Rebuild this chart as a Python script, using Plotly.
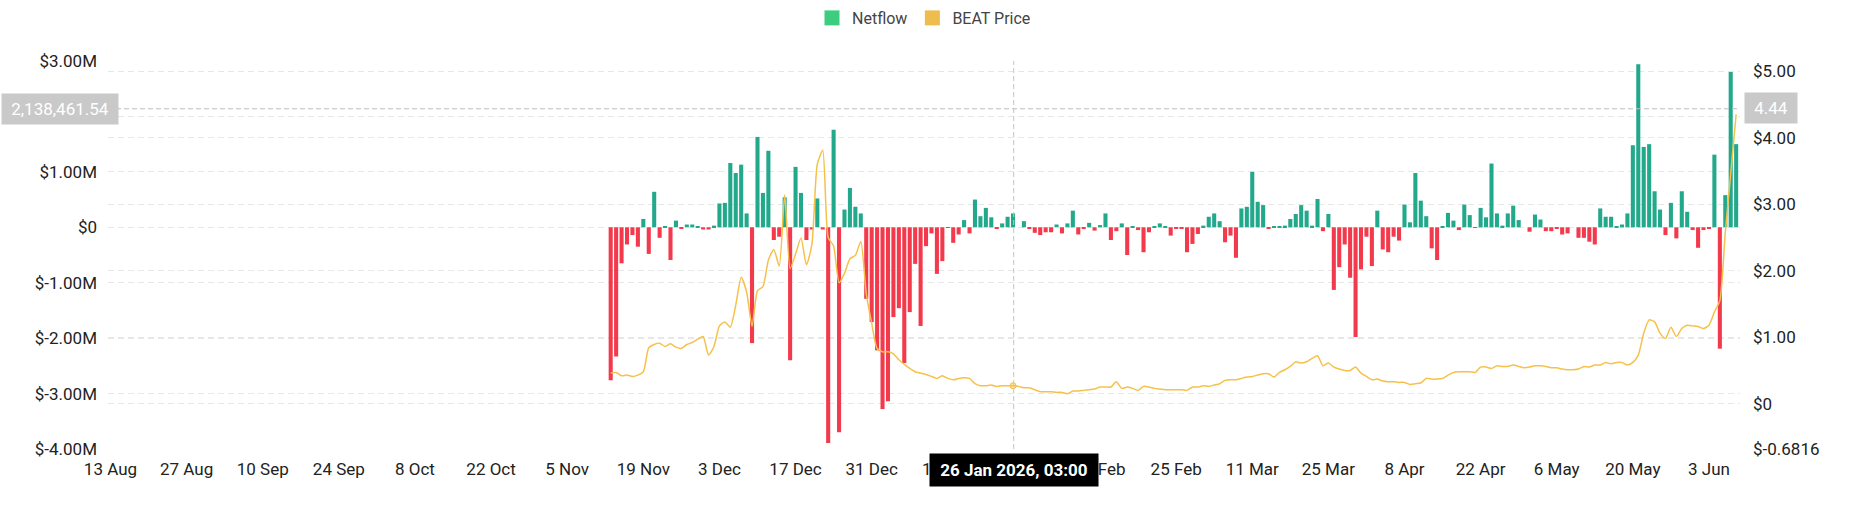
import pandas as pd
import plotly.graph_objects as go

# ---------------- data ----------------
start_date = "2025-11-13"
end_date = "2026-06-08"
dates = pd.date_range(start_date, end_date, freq="D")

# daily netflow (USD millions)
netflow_m = [
    -2.76, -2.33, -0.65, -0.31, -0.14, -0.35, 0.15, -0.48, 0.64, -0.19,
    0.01, -0.59, 0.12, -0.03, 0.05, 0.05, 0.01, -0.04, -0.04, 0.03,
    0.43, 0.44, 1.16, 0.98, 1.13, 0.25, -2.09, 1.63, 0.62, 1.38,
    -0.23, -0.17, 0.54, -2.40, 1.09, 0.62, -0.23, -0.04, 0.52, -0.04,
    -3.89, 1.76, -3.70, 0.32, 0.71, 0.37, 0.25, -1.29, -1.71, -2.22,
    -3.28, -3.14, -1.62, -1.46, -2.45, -1.53, -0.66, -1.78, -0.34, -0.11,
    -0.84, -0.61, -0.01, -0.28, -0.13, 0.13, -0.11, 0.50, 0.20, 0.35,
    0.18, -0.02, 0.07, 0.19, 0.25, 0.00, 0.11, -0.03, -0.10, -0.14,
    -0.09, -0.09, 0.05, -0.11, 0.07, 0.30, -0.13, -0.02, 0.08, -0.06,
    0.04, 0.25, -0.23, -0.07, 0.07, -0.50, 0.01, -0.05, -0.45, -0.09,
    0.02, 0.07, 0.02, -0.15, -0.02, -0.02, -0.45, -0.30, -0.12, 0.03,
    0.19, 0.25, 0.11, -0.27, -0.15, -0.55, 0.34, 0.37, 1.00, 0.46,
    0.40, -0.03, 0.01, 0.01, 0.03, 0.15, 0.24, 0.40, 0.30, 0.03,
    0.51, -0.07, 0.24, -1.13, -0.72, -0.31, -0.91, -1.98, -0.76, -0.17,
    -0.70, 0.30, -0.40, -0.45, -0.17, -0.24, 0.41, 0.09, 0.98, 0.48,
    0.20, -0.38, -0.59, 0.01, 0.26, 0.12, -0.05, 0.41, 0.22, -0.01,
    0.35, 0.18, 1.15, 0.25, 0.03, 0.25, 0.39, 0.13, 0.00, -0.08,
    0.23, 0.14, -0.07, -0.07, -0.02, -0.13, -0.11, 0.00, -0.19, -0.19,
    -0.26, -0.31, 0.34, 0.19, 0.19, 0.02, 0.05, 0.25, 1.48, 2.94,
    1.45, 1.50, 0.65, 0.32, -0.14, 0.44, -0.20, 0.65, 0.28, -0.05,
    -0.37, -0.05, -0.03, 1.31, -2.19, 0.58, 2.80, 1.50,
]

# daily BEAT price (USD)
beat_price = [
    0.46, 0.47, 0.42, 0.43, 0.41, 0.43, 0.48, 0.84, 0.89, 0.91,
    0.86, 0.90, 0.85, 0.83, 0.89, 0.92, 0.97, 1.01, 0.73, 0.86,
    1.17, 1.23, 1.15, 1.48, 1.90, 1.68, 1.16, 1.70, 1.76, 2.16,
    2.32, 2.07, 3.14, 2.03, 2.25, 2.49, 2.09, 2.39, 3.60, 3.81,
    2.50, 2.37, 1.82, 1.96, 2.18, 2.23, 2.44, 1.66, 1.21, 0.83,
    0.78, 0.78, 0.75, 0.66, 0.59, 0.53, 0.48, 0.46, 0.44, 0.41,
    0.38, 0.42, 0.38, 0.36, 0.38, 0.39, 0.38, 0.30, 0.27, 0.27,
    0.28, 0.26, 0.27, 0.27, 0.27, 0.26, 0.24, 0.24, 0.21, 0.18,
    0.18, 0.18, 0.17, 0.17, 0.15, 0.19, 0.19, 0.20, 0.21, 0.22,
    0.25, 0.25, 0.25, 0.33, 0.23, 0.25, 0.23, 0.20, 0.26, 0.25,
    0.23, 0.22, 0.21, 0.21, 0.21, 0.21, 0.20, 0.25, 0.25, 0.27,
    0.26, 0.28, 0.30, 0.35, 0.36, 0.36, 0.38, 0.40, 0.41, 0.43,
    0.45, 0.45, 0.40, 0.47, 0.51, 0.56, 0.63, 0.61, 0.63, 0.68,
    0.72, 0.57, 0.61, 0.55, 0.52, 0.50, 0.50, 0.55, 0.46, 0.41,
    0.36, 0.37, 0.34, 0.33, 0.33, 0.32, 0.32, 0.29, 0.30, 0.31,
    0.38, 0.37, 0.37, 0.38, 0.43, 0.47, 0.48, 0.48, 0.48, 0.47,
    0.55, 0.55, 0.53, 0.57, 0.56, 0.56, 0.58, 0.56, 0.54, 0.55,
    0.57, 0.57, 0.56, 0.54, 0.54, 0.52, 0.51, 0.51, 0.52, 0.56,
    0.55, 0.58, 0.58, 0.62, 0.60, 0.62, 0.62, 0.58, 0.62, 0.73,
    1.06, 1.26, 1.23, 1.06, 0.98, 1.15, 1.01, 1.13, 1.18, 1.17,
    1.16, 1.13, 1.18, 1.38, 1.55, 2.57, 3.46, 4.35,
]

# x-axis ticks (every 14 days); 28 Jan is fully hidden under the cursor label
x_tick_vals = [
    "2025-08-13", "2025-08-27", "2025-09-10", "2025-09-24", "2025-10-08",
    "2025-10-22", "2025-11-05", "2025-11-19", "2025-12-03", "2025-12-17",
    "2025-12-31", "2026-01-14", "2026-02-11", "2026-02-25",
    "2026-03-11", "2026-03-25", "2026-04-08", "2026-04-22", "2026-05-06",
    "2026-05-20", "2026-06-03",
]
x_tick_text = [
    "13 Aug", "27 Aug", "10 Sep", "24 Sep", "8 Oct",
    "22 Oct", "5 Nov", "19 Nov", "3 Dec", "17 Dec",
    "31 Dec", "14 Jan", "11 Feb", "25 Feb",
    "11 Mar", "25 Mar", "8 Apr", "22 Apr", "6 May",
    "20 May", "3 Jun",
]
left_tick_vals = [3e6, 2e6, 1e6, 0, -1e6, -2e6, -3e6, -4e6]
left_tick_text = ["$3.00M", "", "$1.00M", "$0", "$-1.00M", "$-2.00M", "$-3.00M", "$-4.00M"]
right_tick_vals = [5, 4, 3, 2, 1, 0, -0.6816]
right_tick_text = ["$5.00", "$4.00", "$3.00", "$2.00", "$1.00", "$0", "$-0.6816"]

cursor_time = "2026-01-26 03:00"
cursor_label = "26 Jan 2026, 03:00"
cursor_netflow = 2138461.54
cursor_netflow_label = "2,138,461.54"
cursor_price = 4.44
cursor_index = 74

# ---------------- style ----------------
GREEN = "#22a88b"
RED = "#f23a4c"
GOLD = "#f6c14a"
GRID = "#e7e7e7"
FONT = "Roboto"
TXT = "#222222"
NB = "&nbsp;"

netflow = [v * 1e6 for v in netflow_m]
bar_colors = [GREEN if v >= 0 else RED for v in netflow]

fig = go.Figure()

fig.add_trace(go.Bar(
    x=dates, y=netflow, marker=dict(color=bar_colors, line=dict(width=0)),
    name="Netflow", showlegend=False, yaxis="y",
))
fig.add_trace(go.Scatter(
    x=dates, y=beat_price, mode="lines", name="BEAT Price", showlegend=False,
    line=dict(color=GOLD, width=1.5, shape="spline", smoothing=0.6), yaxis="y2",
))
# hover dot on price line at the cursor
fig.add_trace(go.Scatter(
    x=[dates[cursor_index]], y=[beat_price[cursor_index]], mode="markers",
    marker=dict(size=6, color="rgba(247,195,77,0.5)", line=dict(color=GOLD, width=1)),
    showlegend=False, yaxis="y2", hoverinfo="skip",
))
# legend entries
fig.add_trace(go.Scatter(x=[None], y=[None], mode="markers", name="Netflow",
                         marker=dict(symbol="square", size=15, color="#3ccd7e")))
fig.add_trace(go.Scatter(x=[None], y=[None], mode="markers", name="BEAT Price",
                         marker=dict(symbol="square", size=15, color="#edbd4d")))

PLOT_H = 525 - 61 - 76

fig.update_layout(
    width=1852, height=525,
    margin=dict(l=108, r=112, t=61, b=76, autoexpand=False),
    paper_bgcolor="white", plot_bgcolor="white",
    bargap=0.25,
    font=dict(family=FONT, size=17, color=TXT),
    legend=dict(orientation="h", x=0.5, xanchor="center", y=1 + 43 / PLOT_H, yanchor="middle",
                font=dict(size=16, color="#444444"), itemclick=False),
    xaxis=dict(
        type="date",
        range=["2025-08-12 13:00", "2026-06-08 17:00"],
        tickvals=x_tick_vals, ticktext=x_tick_text,
        showgrid=False, showline=False, zeroline=False, ticks="",
        tickfont=dict(size=17, color=TXT), ticklabelstandoff=8,
    ),
    yaxis=dict(
        range=[-4e6, 3e6], tickvals=left_tick_vals, ticktext=left_tick_text,
        showgrid=True, gridcolor=GRID, griddash="6px,4px", gridwidth=1,
        zeroline=False, showline=False, ticks="",
        tickfont=dict(size=17, color=TXT), ticklabelstandoff=10,
    ),
    yaxis2=dict(
        overlaying="y", side="right",
        range=[-0.6816, 5.153], tickvals=right_tick_vals, ticktext=right_tick_text,
        showgrid=True, gridcolor=GRID, griddash="6px,4px", gridwidth=1,
        zeroline=False, showline=False, ticks="",
        tickfont=dict(size=17, color=TXT), ticklabelstandoff=12,
    ),
    shapes=[
        dict(type="line", xref="paper", x0=0, x1=1, yref="y", y0=cursor_netflow, y1=cursor_netflow,
             line=dict(color="#bdbdbd", width=1, dash="5px,3px"), layer="above"),
        dict(type="line", xref="x", x0=cursor_time, x1=cursor_time, yref="paper", y0=0, y1=1,
             line=dict(color="#c4c4c4", width=1, dash="5px,3px"), layer="above"),
    ],
    annotations=[
        dict(x=cursor_time, xref="x", y=-21 / PLOT_H, yref="paper", yanchor="middle",
             text="<b>" + NB + cursor_label + NB + "</b>", showarrow=False,
             font=dict(size=17, color="white", family=FONT), bgcolor="#000000", borderpad=6),
        dict(x=0, xref="paper", xanchor="right", xshift=11, y=cursor_netflow, yref="y",
             yanchor="middle", text=NB + cursor_netflow_label + NB, showarrow=False,
             font=dict(size=17, color="white", family=FONT), bgcolor="#c9c9c9", borderpad=5),
        dict(x=1, xref="paper", xanchor="left", xshift=4, y=cursor_price, yref="y2",
             yanchor="middle", text=NB + str(cursor_price) + NB, showarrow=False,
             font=dict(size=17, color="white", family=FONT), bgcolor="#c9c9c9", borderpad=5),
    ],
)

fig.write_html("out.html")
